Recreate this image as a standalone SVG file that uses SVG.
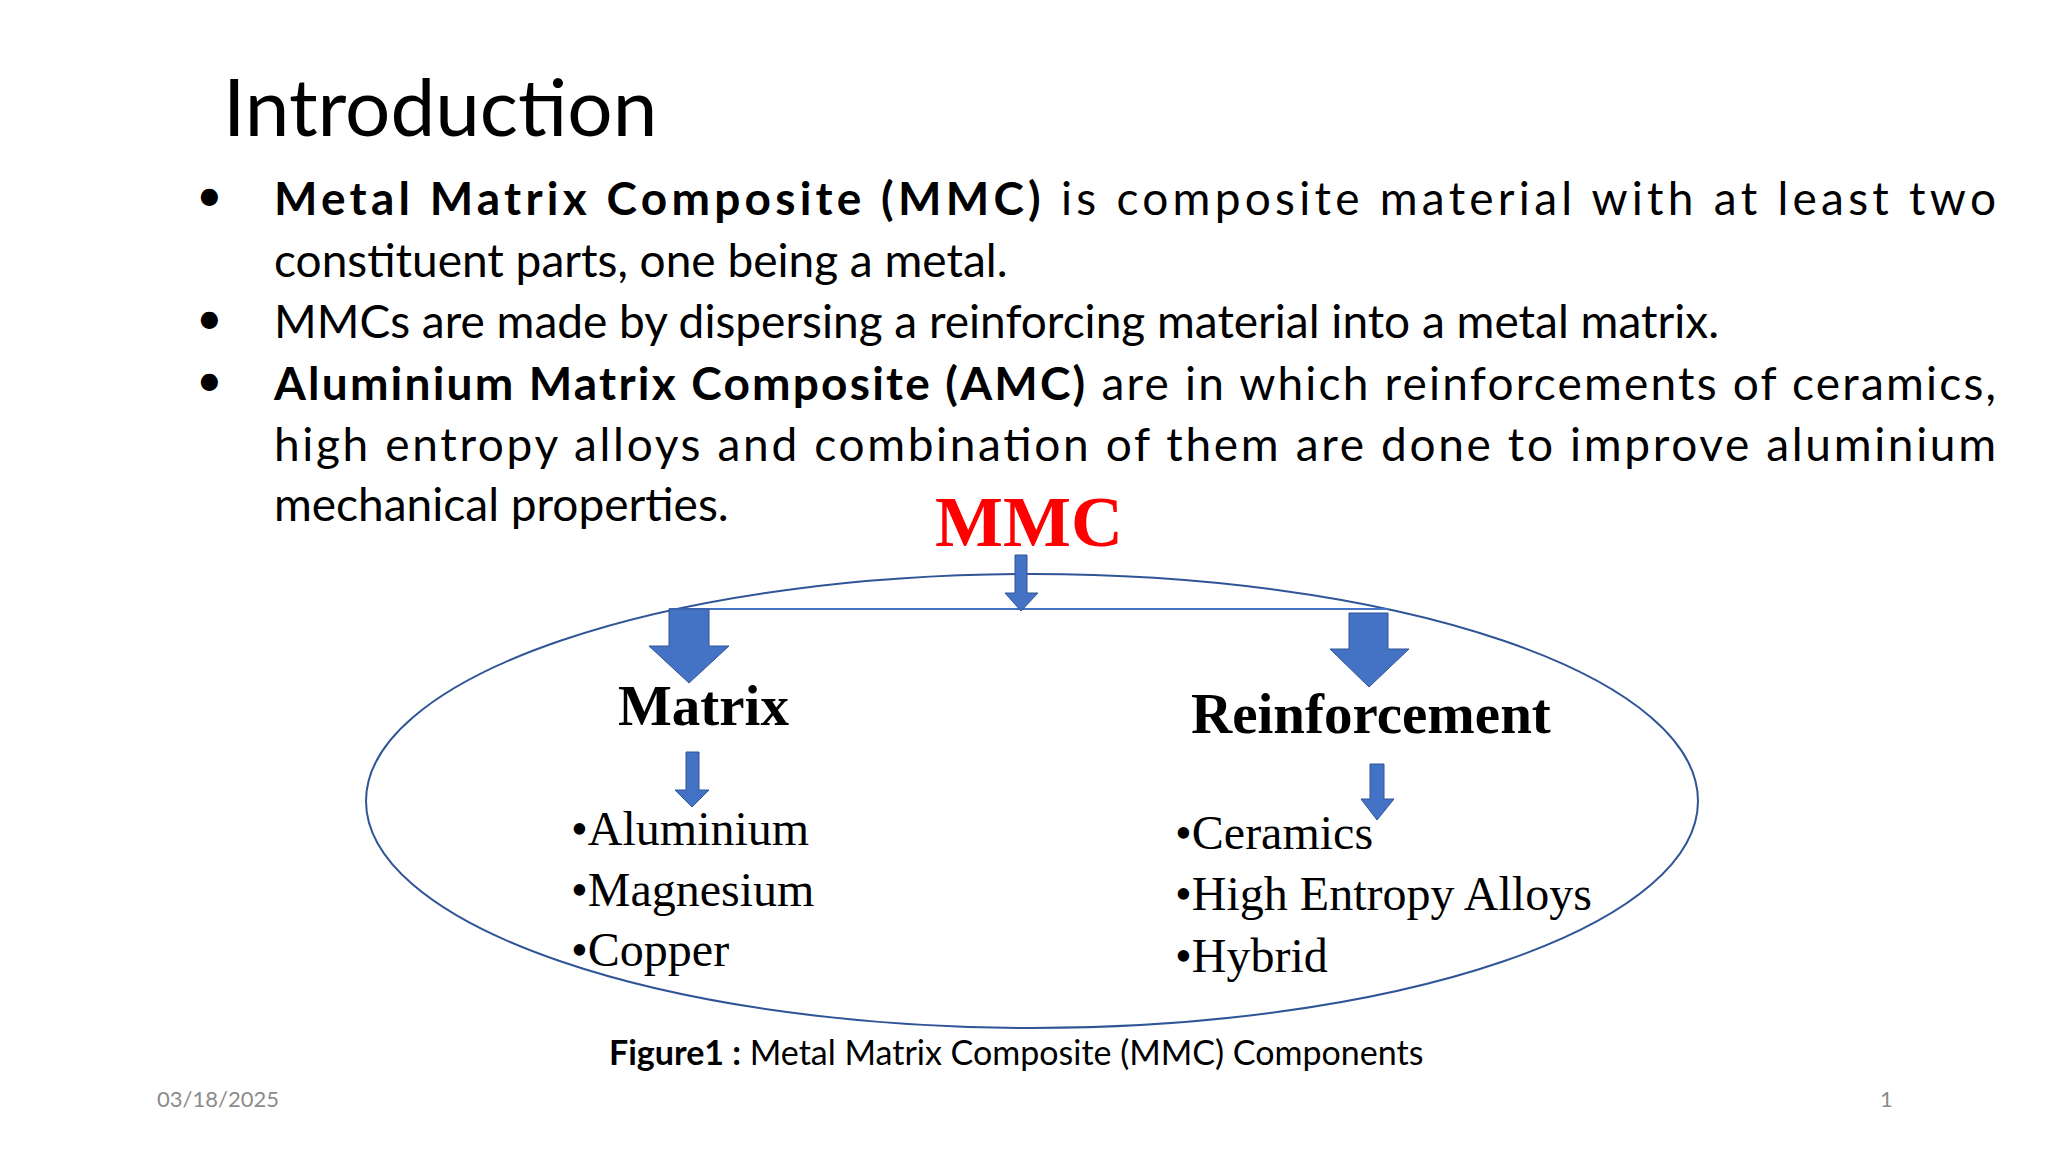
<svg xmlns="http://www.w3.org/2000/svg" width="2048" height="1152" viewBox="0 0 2048 1152">
<style>
.s{font-family:Lato,"Liberation Sans",sans-serif;fill:#000}
.b{font-size:46px}
.t{font-family:"Liberation Serif",serif;fill:#000}
.arr{fill:#4472c4;stroke:#2f5597;stroke-width:1}
</style>
<rect width="2048" height="1152" fill="#fff"/>
<text class="s" x="223" y="136" font-size="80">Introduction</text>
<g id="bullets" class="s b">
<text x="196" y="211">•</text><text x="196" y="334">•</text><text x="196" y="396">•</text>
<text x="274" y="215" textLength="1722" lengthAdjust="spacing"><tspan font-weight="bold">Metal Matrix Composite (MMC)</tspan> is composite material with at least two</text>
<text x="274" y="277">constituent parts, one being a metal.</text>
<text x="274" y="338">MMCs are made by dispersing a reinforcing material into a metal matrix.</text>
<text x="274" y="400" textLength="1722" lengthAdjust="spacing"><tspan font-weight="bold">Aluminium Matrix Composite (AMC)</tspan> are in which reinforcements of ceramics,</text>
<text x="274" y="461" textLength="1722" lengthAdjust="spacing">high entropy alloys and combination of them are done to improve aluminium</text>
<text x="274" y="521">mechanical properties.</text>
</g>
<g id="ellipse"><ellipse cx="1032" cy="801" rx="666" ry="227" fill="none" stroke="#2f5597" stroke-width="2"/></g>
<g id="mmc"><text class="t" x="935" y="546" font-size="72" font-weight="bold" fill="#ff0000" style="fill:#ff0000">MMC</text></g>
<g id="connectors">
<line x1="669" y1="609" x2="1388" y2="609" stroke="#4472c4" stroke-width="2"/>
<polygon class="arr" points="1015,555 1027,555 1027,593 1038,593 1021,611 1005,593 1015,593"/>
<polygon class="arr" points="669,609 709,609 709,646 729,646 689,683 649,646 669,646"/>
<polygon class="arr" points="1349,613 1388,613 1388,649 1409,649 1369,687 1330,649 1349,649"/>
<polygon class="arr" points="686,752 699,752 699,790 709,790 692,807 675,790 686,790"/>
<polygon class="arr" points="1370,764 1384,764 1384,799 1394,799 1377,820 1361,799 1370,799"/>
</g>
<g id="matrix" class="t">
<text x="618" y="725" font-size="57" font-weight="bold">Matrix</text>
<text x="571" y="845" font-size="48">•Aluminium</text>
<text x="571" y="906" font-size="48">•Magnesium</text>
<text x="571" y="966" font-size="48">•Copper</text>
</g>
<g id="reinforcement" class="t">
<text x="1191" y="733" font-size="57" font-weight="bold">Reinforcement</text>
<text x="1175" y="849" font-size="48">•Ceramics</text>
<text x="1175" y="910" font-size="48">•High Entropy Alloys</text>
<text x="1175" y="972" font-size="48">•Hybrid</text>
</g>
<text class="s" x="609" y="1065" font-size="34"><tspan font-weight="bold">Figure1 :</tspan> Metal Matrix Composite (MMC) Components</text>
<text x="157" y="1107" font-family="Lato,'Liberation Sans',sans-serif" font-size="22" fill="#8b8b8b">03/18/2025</text>
<text x="1880" y="1107" font-family="Lato,'Liberation Sans',sans-serif" font-size="22" fill="#8b8b8b">1</text>
</svg>
